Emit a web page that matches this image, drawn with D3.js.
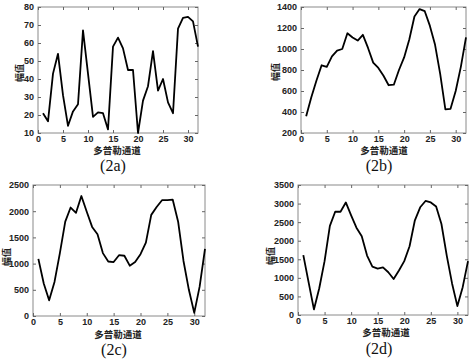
<!DOCTYPE html>
<html>
<head>
<meta charset="utf-8">
<script src="https://cdn.jsdelivr.net/npm/d3@7"></script>
<style>
  body { margin: 0; background: #fff; }
  svg { display: block; }
  .tick text { font-family: "Liberation Sans", Arial, sans-serif; font-size: 9px; font-weight: bold; fill: #222; }
</style>
</head>
<body>
<svg id="chart" width="474" height="361"></svg>
<script>
// channel index 1..32
var channels = d3.range(1, 33);

var amp_a = [21, 16.5, 43, 54, 31, 14, 22, 26, 67, 43, 19, 21.5, 21, 12, 58, 63,
             57, 45, 45, 10, 28, 36, 55.5, 33.5, 40, 27, 21, 68, 74, 74.5, 72, 58];
var amp_b = [360, 540, 700, 845, 830, 930, 985, 1000, 1150, 1110, 1080, 1135, 1010, 870, 820, 745,
             655, 660, 800, 920, 1090, 1310, 1380, 1360, 1220, 1040, 760, 425, 430, 600, 830, 1110];
var amp_c = [1090, 620, 300, 650, 1200, 1800, 2070, 1970, 2290, 1990, 1700, 1560, 1200, 1040, 1030, 1160,
             1150, 960, 1030, 1180, 1400, 1930, 2080, 2210, 2210, 2220, 1800, 1050, 500, 60, 560, 1280];
var amp_d = [1610, 880, 150, 720, 1450, 2400, 2780, 2780, 3030, 2680, 2350, 2120, 1600, 1300, 1250, 1280,
             1150, 970, 1200, 1450, 1850, 2550, 2900, 3070, 3030, 2920, 2450, 1600, 850, 240, 750, 1450];

var x_ticks = [0, 5, 10, 15, 20, 25, 30];
var y_ticks_a = [10, 20, 30, 40, 50, 60, 70, 80];
var y_ticks_b = [200, 400, 600, 800, 1000, 1200, 1400];
var y_ticks_c = [0, 500, 1000, 1500, 2000, 2500];
var y_ticks_d = [0, 500, 1000, 1500, 2000, 2500, 3000, 3500];

var captions = ["(2a)", "(2b)", "(2c)", "(2d)"];
var x_title = "多普勒通道";
var y_title = "幅值";

var svg = d3.select("#chart");
var fmt = d3.format("d");

function draw_panel(box, values, y_ticks, caption, lab) {
    var x = d3.scaleLinear().domain([0, 32]).range([box.left, box.right]);
    var y = d3.scaleLinear().domain([y_ticks[0], y_ticks[y_ticks.length - 1]]).range([box.bottom, box.top]);
    var g = svg.append("g");

    g.append("rect")
        .attr("x", box.left)
        .attr("y", box.top)
        .attr("width", box.right - box.left)
        .attr("height", box.bottom - box.top)
        .attr("fill", "none")
        .attr("stroke", "#8a8a8a")
        .attr("stroke-width", 1);

    // inward ticks on all four sides, labels only bottom and left
    g.append("g")
        .attr("transform", "translate(0," + box.bottom + ")")
        .call(d3.axisBottom(x).tickValues(x_ticks).tickSizeInner(-3).tickSizeOuter(0).tickPadding(3).tickFormat(fmt))
        .call(function (s) { s.select(".domain").remove(); s.selectAll("line").attr("stroke", "#666"); });
    g.append("g")
        .attr("transform", "translate(0," + box.top + ")")
        .call(d3.axisTop(x).tickValues(x_ticks).tickSizeInner(-3).tickSizeOuter(0).tickFormat(""))
        .call(function (s) { s.select(".domain").remove(); s.selectAll("line").attr("stroke", "#666"); });
    g.append("g")
        .attr("transform", "translate(" + box.left + ",0)")
        .call(d3.axisLeft(y).tickValues(y_ticks).tickSizeInner(-3).tickSizeOuter(0).tickPadding(4).tickFormat(fmt))
        .call(function (s) { s.select(".domain").remove(); s.selectAll("line").attr("stroke", "#666"); });
    g.append("g")
        .attr("transform", "translate(" + box.right + ",0)")
        .call(d3.axisRight(y).tickValues(y_ticks).tickSizeInner(-3).tickSizeOuter(0).tickFormat(""))
        .call(function (s) { s.select(".domain").remove(); s.selectAll("line").attr("stroke", "#666"); });

    var line = d3.line()
        .x(function (d, i) { return x(channels[i]); })
        .y(function (d) { return y(d); });

    g.append("path")
        .datum(values)
        .attr("d", line)
        .attr("fill", "none")
        .attr("stroke", "#000")
        .attr("stroke-width", 1.8)
        .attr("stroke-linejoin", "round");

    g.append("text")
        .attr("x", lab.xl)
        .attr("y", lab.yx)
        .attr("text-anchor", "middle")
        .attr("dy", "0.35em")
        .attr("font-family", "Noto Sans CJK SC")
        .attr("font-size", 9.5)
        .attr("font-weight", "bold")
        .attr("fill", "#222")
        .text(x_title);

    g.append("text")
        .attr("transform", "translate(" + lab.yl + "," + lab.yy + ") rotate(-90)")
        .attr("text-anchor", "middle")
        .attr("dy", "0.35em")
        .attr("font-family", "Noto Sans CJK SC")
        .attr("font-size", 9)
        .attr("font-weight", "bold")
        .attr("fill", "#222")
        .text(y_title);

    g.append("text")
        .attr("x", lab.xc)
        .attr("y", lab.yc)
        .attr("text-anchor", "middle")
        .attr("dy", "0.35em")
        .attr("font-family", "Liberation Serif")
        .attr("font-size", 16)
        .attr("fill", "#111")
        .text(caption);
}

draw_panel({left: 38, right: 198, top: 7, bottom: 133}, amp_a, y_ticks_a, captions[0],
    {xl: 117, yx: 151, yl: 20, yy: 73, xc: 113, yc: 165});
draw_panel({left: 301, right: 466, top: 7, bottom: 133}, amp_b, y_ticks_b, captions[1],
    {xl: 384, yx: 151, yl: 276, yy: 72, xc: 379, yc: 165});
draw_panel({left: 33, right: 205, top: 185, bottom: 316}, amp_c, y_ticks_c, captions[2],
    {xl: 118, yx: 335, yl: 7, yy: 257, xc: 114, yc: 349});
draw_panel({left: 298, right: 468, top: 185, bottom: 315}, amp_d, y_ticks_d, captions[3],
    {xl: 386, yx: 333, yl: 271, yy: 256, xc: 379, yc: 348});
</script>
</body>
</html>
